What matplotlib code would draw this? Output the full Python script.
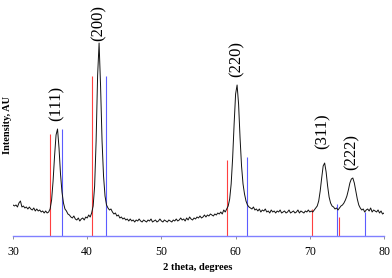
import matplotlib
matplotlib.use('Agg')
import matplotlib.pyplot as plt
import numpy as np

# diffraction scan, 30..80 deg in 0.2 deg steps (intensity in arbitrary units)
two_theta = np.round(np.arange(30.0, 80.001, 0.2), 1)
intensity = [
    31, 30, 31, 29, 33, 35, 29, 30, 28, 29,       # 30.0 - 31.8
    27, 29, 27, 26, 28, 25, 27, 25, 26, 24,       # 32.0 - 33.8
    25, 23, 25, 23, 24, 27, 36, 55, 80, 101,      # 34.0 - 35.8
    107, 88, 62, 44, 33, 27, 25, 22, 21, 19,      # 36.0 - 37.8
    18, 20, 17, 16, 18, 15, 17, 18, 16, 19,       # 38.0 - 39.8
    18, 21, 19, 23, 30, 50, 95, 160, 193, 150,    # 40.0 - 41.8
    95, 60, 40, 31, 28, 26, 27, 24, 22, 23,       # 42.0 - 43.8
    20, 21, 18, 19, 17, 18, 16, 17, 15, 17,       # 44.0 - 45.8
    15, 16, 14, 16, 15, 17, 15, 14, 16, 15,       # 46.0 - 47.8
    14, 16, 15, 17, 14, 15, 16, 14, 15, 17,       # 48.0 - 49.8
    15, 14, 16, 15, 14, 16, 15, 14, 16, 15,       # 50.0 - 51.8
    17, 15, 16, 18, 16, 17, 15, 18, 16, 19,       # 52.0 - 53.8
    17, 16, 18, 17, 19, 18, 20, 18, 19, 21,       # 54.0 - 55.8
    19, 21, 20, 22, 21, 20, 22, 21, 23, 22,       # 56.0 - 57.8
    24, 22, 26, 24, 27, 30, 37, 52, 78, 112,      # 58.0 - 59.8
    142, 151, 132, 98, 70, 52, 42, 35, 31, 29,    # 60.0 - 61.8
    28, 27, 29, 26, 27, 25, 27, 24, 26, 25,       # 62.0 - 63.8
    27, 24, 25, 23, 26, 24, 25, 23, 25, 24,       # 64.0 - 65.8
    26, 23, 24, 25, 23, 24, 26, 23, 24, 25,       # 66.0 - 67.8
    23, 24, 26, 23, 25, 24, 23, 25, 24, 26,       # 68.0 - 69.8
    24, 25, 24, 26, 28, 30, 35, 45, 58, 70,       # 70.0 - 71.8
    73, 64, 50, 39, 33, 30, 29, 27, 28, 26,       # 72.0 - 73.8
    28, 30, 31, 33, 36, 40, 46, 53, 57, 58,       # 74.0 - 75.8
    53, 45, 37, 31, 28, 26, 27, 24, 26, 27,       # 76.0 - 77.8
    25, 28, 24, 26, 25, 24, 26, 23, 25, 22,       # 78.0 - 79.8
    23,                                           # 80.0
]

# reference patterns
red_pos = [35.0, 40.7, 58.9, 70.3, 74.0]
red_h = [102, 160, 76, 27, 19]
blue_pos = [36.6, 42.5, 61.6, 73.7, 77.5]
blue_h = [107, 160, 79, 32, 24]

peak_labels = ['(111)', '(200)', '(220)', '(311)', '(222)']
label_x = [35.85, 41.6, 60.1, 71.7, 75.6]
label_y = [133, 213, 177, 105, 84]

fig = plt.figure(figsize=(3.92, 2.78), dpi=100)
ax = fig.add_axes([0.0332, 0.1511, 0.9464, 0.8489])

ax.vlines(red_pos, 0, red_h, color='#ff4040', lw=0.8)
ax.vlines(blue_pos, 0, blue_h, color='#5c5cff', lw=0.8)
ax.plot(two_theta, intensity, color='#111111', lw=0.7)

for lab, lx, ly in zip(peak_labels, label_x, label_y):
    ax.text(lx, ly, lab, rotation=90, ha='center', va='center',
            family='Liberation Serif', fontsize=12)

ax.set_xlim(30, 80)
ax.set_ylim(0, 236)
ax.set_xticks([30, 40, 50, 60, 70, 80])
ax.set_yticks([])
for s in ['top', 'left', 'right']:
    ax.spines[s].set_visible(False)
ax.spines['bottom'].set_color('#8080ff')
ax.spines['bottom'].set_linewidth(1.0)
ax.tick_params(axis='x', length=2, width=0.6, color='#808080', pad=5, labelsize=8.5)
for t in ax.get_xticklabels():
    t.set_family('Liberation Serif')

fig.text(0.505, 0.036, '2 theta, degrees', ha='center', va='center',
         family='Liberation Serif', weight='bold', fontsize=7.6)
fig.text(0.018, 0.55, 'Intensity, AU', ha='center', va='center', rotation=90,
         family='Liberation Serif', weight='bold', fontsize=7.5)

fig.savefig('out.png', dpi=100)
